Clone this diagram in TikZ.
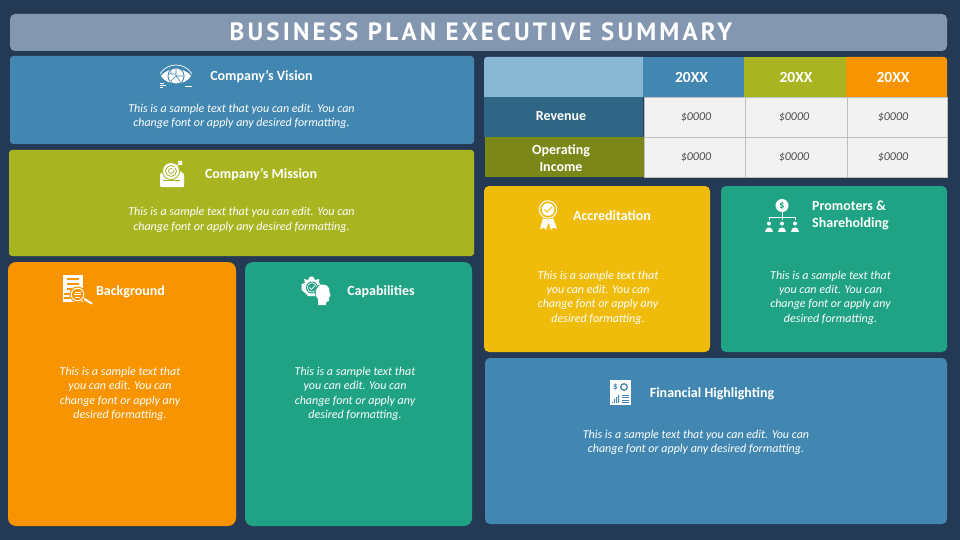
\documentclass[tikz,border=0pt]{standalone}
\usepackage{xcolor}
\usepackage{fontspec}
\usepackage{tikz}
\setmainfont{Carlito}
\newfontfamily\titlefont[LetterSpace=12.5]{PT Sans}

\definecolor{navy}{HTML}{243A54}
\definecolor{slate}{HTML}{8497B0}
\definecolor{steel}{HTML}{4187B2}
\definecolor{olive}{HTML}{A8B521}
\definecolor{amber}{HTML}{F79400}
\definecolor{teal}{HTML}{1FA384}
\definecolor{gold}{HTML}{F0BC0C}
\definecolor{sky}{HTML}{8AB8D4}
\definecolor{deepsteel}{HTML}{2F6686}
\definecolor{deepolive}{HTML}{7C871A}
\definecolor{cellgrey}{HTML}{F2F2F2}
\definecolor{cellline}{HTML}{BFBFBF}

\tikzset{
    panel/.style={rectangle, rounded corners=#1, inner sep=0pt},
    panel/.default=3pt,
    heading/.style={text=white, font=\fontsize{14}{17}\selectfont\bfseries, inner sep=0pt, align=left},
    body/.style={text=white, font=\fontsize{12}{14.4}\selectfont\itshape, inner sep=0pt, align=center},
    cell/.style={rectangle, draw=cellline, fill=cellgrey, line width=0.8pt, minimum width=#1, minimum height=40pt, inner sep=0pt},
    cell/.default=101pt,
    amount/.style={text=black!70, inner sep=0pt, font=\fontsize{12}{14}\selectfont\itshape},
    header/.style={rectangle, minimum height=40pt, inner sep=0pt, text=white, font=\fontsize{15.5}{18}\selectfont\bfseries},
    rowlabel/.style={rectangle, minimum width=159pt, minimum height=40pt, inner sep=0pt},
    rowtext/.style={text=white, inner sep=0pt, align=center, font=\fontsize{14}{17}\selectfont\bfseries}
}

\begin{document}
\begin{tikzpicture}[x=1pt, y=-1pt]
    \useasboundingbox[fill=navy] (0, 0) rectangle (960, 540);

    \node[panel=5pt, fill=slate, minimum width=937pt, minimum height=37pt] at (478.5, 32.5) (title) {};
    \node[text=white, inner sep=0pt, font=\fontsize{25}{30}\selectfont\titlefont\bfseries] at (481, 32) (titletext) {BUSINESS PLAN EXECUTIVE SUMMARY};

    \node[panel, fill=steel, minimum width=464pt, minimum height=88pt] at (242, 100) (vision) {};
    \node[panel, fill=olive, minimum width=465pt, minimum height=106pt] at (241.5, 203) (mission) {};
    \node[panel=8pt, fill=amber, minimum width=228pt, minimum height=264pt] at (122, 394) (background) {};
    \node[panel=8pt, fill=teal, minimum width=227pt, minimum height=264pt] at (358.5, 394) (capabilities) {};
    \node[panel=5pt, fill=gold, minimum width=226pt, minimum height=166pt] at (597, 269) (accreditation) {};
    \node[panel=5pt, fill=teal, minimum width=226pt, minimum height=166pt] at (834, 269) (promoters) {};
    \node[panel=5pt, fill=steel, minimum width=462pt, minimum height=166pt] at (716, 441) (financial) {};

    \node[heading] at (261.5, 77) (visionhead) {Company’s Vision};
    \node[heading] at (261, 175) (missionhead) {Company’s Mission};
    \node[heading] at (130.5, 291.5) (backgroundhead) {Background};
    \node[heading] at (381, 291.5) (capabilitieshead) {Capabilities};
    \node[heading] at (612, 216) (accreditationhead) {Accreditation};
    \node[heading, anchor=west] at (812, 215.5) (promotershead) {Promoters \&\\Shareholding};
    \node[heading] at (712, 393.5) (financialhead) {Financial Highlighting};

    \node[body] at (241.5, 116.5) (visiontext) {This is a sample text that you can edit. You can\\change font or apply any desired formatting.};
    \node[body] at (241.5, 220) (missiontext) {This is a sample text that you can edit. You can\\change font or apply any desired formatting.};
    \node[body] at (120, 394) (backgroundtext) {This is a sample text that\\you can edit. You can\\change font or apply any\\desired formatting.};
    \node[body] at (355, 394) (capabilitiestext) {This is a sample text that\\you can edit. You can\\change font or apply any\\desired formatting.};
    \node[body] at (598, 297.5) (accreditationtext) {This is a sample text that\\you can edit. You can\\change font or apply any\\desired formatting.};
    \node[body] at (830.5, 297.5) (promoterstext) {This is a sample text that\\you can edit. You can\\change font or apply any\\desired formatting.};
    \node[body] at (696, 442.5) (financialtext) {This is a sample text that you can edit. You can\\change font or apply any desired formatting.};

    \fill[sky] (643, 97) -- (484, 97) [rounded corners=3pt] -- (484, 57) [sharp corners] -- (643, 57) -- cycle;
    \fill[amber] (846, 57) [rounded corners=3pt] -- (947, 57) [sharp corners] -- (947, 97) -- (846, 97) -- cycle;
    \node[header, fill=steel, minimum width=101pt] at (693.5, 77) (yeara) {};
    \node[header, fill=olive, minimum width=102pt] at (795, 77) (yearb) {};
    \node[header] at (691.5, 77.5) (yearatext) {20XX};
    \node[header] at (796, 77.5) (yearbtext) {20XX};
    \node[header] at (893, 77.5) (yearctext) {20XX};

    \node[rowlabel, fill=deepsteel] at (563.5, 117) (revenue) {};
    \node[rowlabel, fill=deepolive] at (564.5, 157) (income) {};
    \node[rowtext] at (561, 116) (revenuetext) {Revenue};
    \node[rowtext] at (561, 158.5) (incometext) {Operating\\Income};

    \node[cell] at (694.5, 117.5) (ra) {};
    \node[cell=102pt] at (796, 117.5) (rb) {};
    \node[cell=100.5pt] at (897.25, 117.5) (rc) {};
    \node[cell] at (694.5, 157.5) (ia) {};
    \node[cell=102pt] at (796, 157.5) (ib) {};
    \node[cell=100.5pt] at (897.25, 157.5) (ic) {};
    \node[amount] at (696, 117.5) (ratext) {\$0000};
    \node[amount] at (794, 117.5) (rbtext) {\$0000};
    \node[amount] at (893, 117.5) (rctext) {\$0000};
    \node[amount] at (696, 157.5) (iatext) {\$0000};
    \node[amount] at (794, 157.5) (ibtext) {\$0000};
    \node[amount] at (893, 157.5) (ictext) {\$0000};

    % vision
    \draw[white, line width=0.7pt] (160, 74) .. controls (167, 62) and (185, 62) .. (192, 74);
    \fill[white] (161, 76) .. controls (167, 67) and (185, 67) .. (191, 76) .. controls (185, 86) and (167, 86) .. (161, 76) -- cycle;
    \fill[steel] (176, 76) circle (8.5);
    \fill[white] (176, 76) circle (7.5);
    \draw[steel, line width=0.6pt] (176, 69) -- (176, 76) -- (183, 76) (176, 76) -- (171, 81) (169, 74) -- (176, 74) (171, 71) -- (171, 74) (176, 76) -- (180, 81);
    \draw[white, line width=0.6pt] (160, 83) -- (164, 83) (160, 85) -- (166, 85) (160, 87) -- (163, 87) (185, 86.5) -- (192, 86.5);

    % mission
    \fill[white, rounded corners=1pt] (160, 174) -- (164, 171) -- (180, 171) -- (184, 174) -- (184, 187) -- (160, 187) -- cycle;
    \fill[olive] (171, 171) circle (9);
    \fill[white] (171, 171) circle (8);
    \draw[olive, line width=0.8pt] (171, 171) circle (5.5) (171, 171) circle (2.5);
    \draw[olive, line width=0.7pt] (163, 180) -- (180, 180);
    \draw[white, line width=0.8pt] (172, 170) -- (180, 163);
    \fill[white] (178, 161) -- (182, 161) -- (182, 165) -- (179, 165) -- cycle;

    % background
    \fill[white] (63, 275) rectangle (83, 302);
    \draw[amber, line width=1.1pt] (67, 279) -- (79, 279) (67, 284) -- (79, 284) (67, 289) -- (72, 289) (64, 294) -- (70, 294) (64, 298) -- (70, 298);
    \draw[white, line width=2pt, line cap=round] (83, 298) -- (91.5, 303.5);
    \fill[amber] (77.5, 294.5) circle (8);
    \draw[white, line width=1pt] (77.5, 294.5) circle (6.3);
    \draw[white, line width=0.9pt] (74.5, 292) -- (80.5, 292) (74, 294.5) -- (81, 294.5) (75, 297) -- (80, 297);

    % capabilities
    \fill[white] (301.5, 284) -- (305, 283) -- (304, 279) -- (308, 280) -- (310, 276.5) -- (313, 276.5) -- (315, 280) -- (319, 279) -- (319, 283) -- (322, 285) -- (316, 296) -- (308, 296) -- (304, 292) -- (301.5, 290) -- cycle;
    \fill[teal] (312, 287.5) circle (6);
    \draw[white, line width=0.7pt] (312, 287.5) circle (4.7);
    \draw[white, line width=0.8pt] (309.5, 287.5) -- (311.5, 289.5) -- (315, 285.5);
    \fill[teal] (322.5, 292) circle (8);
    \fill[white] (318, 305) -- (318, 299) .. controls (313, 294) and (316, 284.5) .. (323, 284.5) .. controls (328, 284.5) and (330, 289) .. (329.5, 292) -- (330.5, 296) -- (329, 297) -- (329, 301) -- (326, 302) -- (326, 305) -- cycle;

    % accreditation
    \fill[white] (543, 218) -- (540, 229) -- (544, 227.5) -- (546, 230) -- (548.5, 222) -- (551, 230) -- (553, 227.5) -- (557, 229) -- (553, 218) -- cycle;
    \fill[gold] (548, 209.5) circle (10);
    \draw[white, line width=1pt] (548, 209.5) circle (8.7);
    \fill[white] (548, 209.5) circle (6.3);
    \draw[gold, line width=1pt] (544.5, 209.5) -- (547, 212) -- (552, 207);

    % promoters
    \fill[white] (782, 205.5) circle (6.5);
    \node[text=teal, inner sep=0pt, font=\fontsize{10}{12}\selectfont\bfseries] at (782, 205.5) (coin) {\$};
    \draw[white, line width=0.7pt] (782, 212) -- (782, 220) (769, 220) -- (769, 217) -- (795, 217) -- (795, 220);
    \fill[white] (769, 223.5) circle (2) (782, 223.5) circle (2) (795, 223.5) circle (2);
    \fill[white] (765, 232) .. controls (765, 226) and (773, 226) .. (773, 232) -- cycle;
    \fill[white] (778, 232) .. controls (778, 226) and (786, 226) .. (786, 232) -- cycle;
    \fill[white] (791, 232) .. controls (791, 226) and (799, 226) .. (799, 232) -- cycle;

    % financial
    \fill[white] (610, 380) rectangle (631, 405);
    \node[text=steel, inner sep=0pt, font=\fontsize{9}{11}\selectfont\bfseries] at (615.5, 387) (dollar) {\$};
    \draw[steel, line width=1.3pt] (624, 387) circle (3.3);
    \fill[steel] (612, 402) rectangle (613.2, 403) (614, 399) rectangle (615.2, 403) (616, 397) rectangle (617.2, 403) (618, 395) rectangle (619.2, 403);
    \draw[steel, line width=0.8pt] (622, 395.5) -- (629, 395.5) (622, 397.8) -- (629, 397.8) (622, 400.1) -- (629, 400.1) (622, 402.4) -- (629, 402.4);
\end{tikzpicture}
\end{document}
